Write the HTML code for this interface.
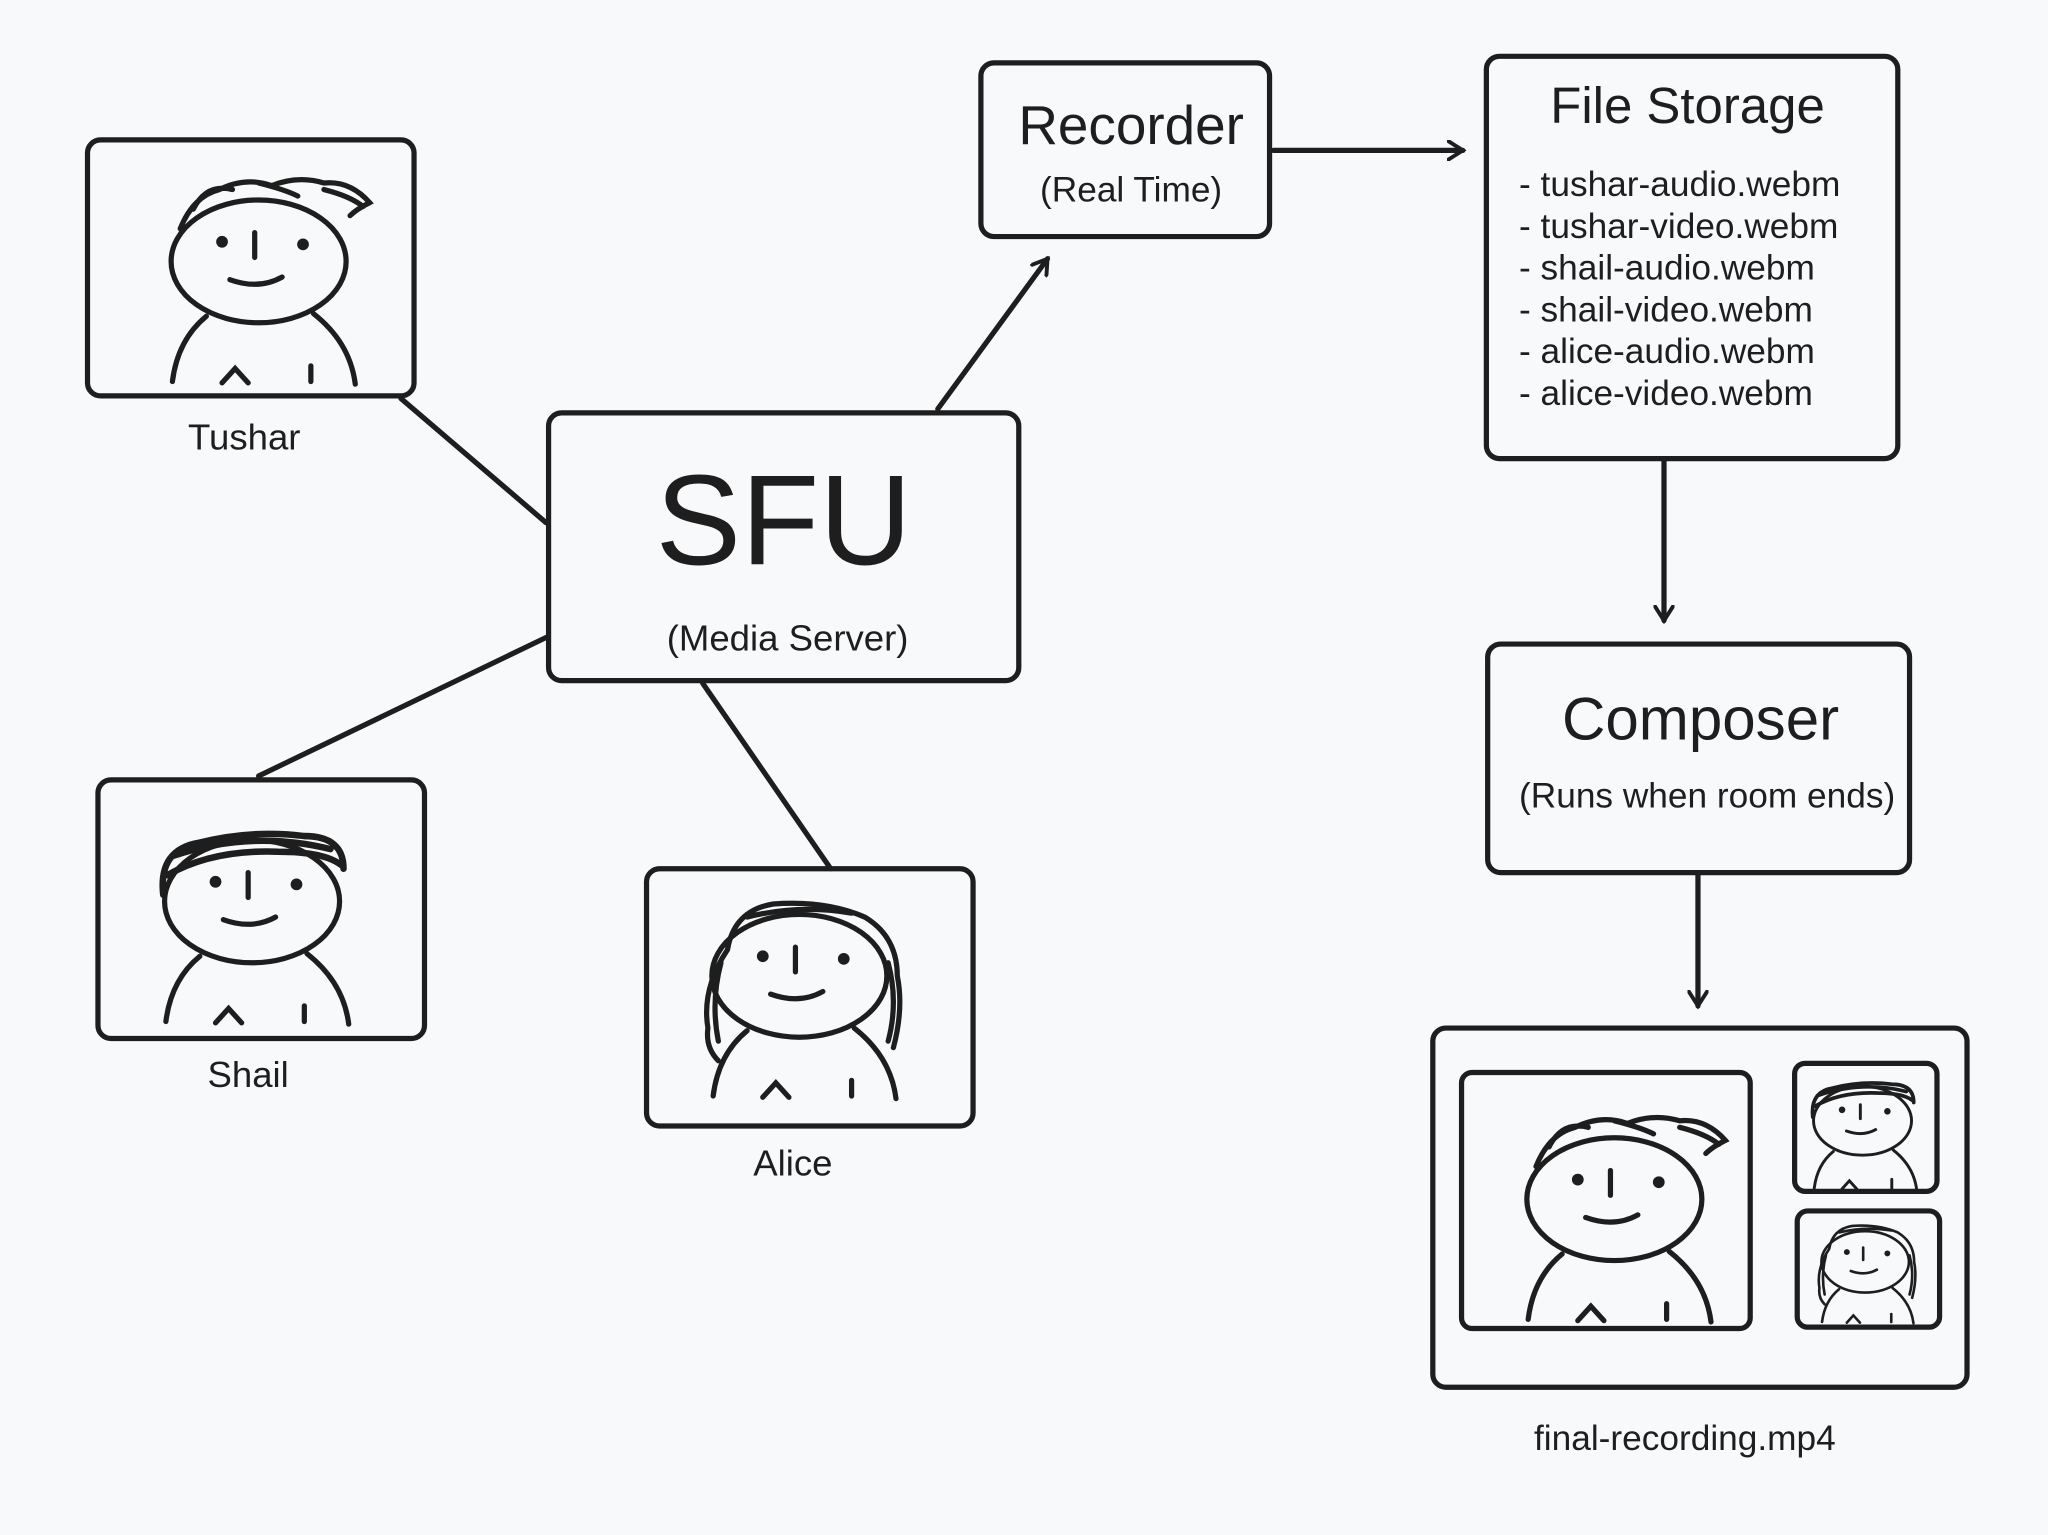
<!DOCTYPE html>
<html><head><meta charset="utf-8"><style>
html,body{margin:0;padding:0;background:#f8f9fb;}
svg{display:block}
text{font-family:"Liberation Sans",sans-serif;fill:#1e1e1e}
</style></head><body>
<svg width="2048" height="1535" viewBox="0 0 1568 1175" xmlns="http://www.w3.org/2000/svg">
<defs>
<marker id="ah" markerWidth="16" markerHeight="16" refX="12" refY="8" orient="auto" markerUnits="userSpaceOnUse">
<path d="M1,1 L12,8 L1,15" fill="none" stroke="#1e1e1e" stroke-width="3" stroke-linecap="round"/>
</marker>
<g id="face" fill="none" stroke="#1e1e1e" stroke-width="4" stroke-linecap="round">
<ellipse cx="0" cy="0" rx="67" ry="47"/>
<circle cx="-28" cy="-15" r="2.5" fill="#1e1e1e"/>
<circle cx="34" cy="-13" r="2.5" fill="#1e1e1e"/>
<path d="M-3,-22 L-3,-3"/>
<path d="M-22,14 Q0,22 18,12"/>
<path d="M-40,42 Q-62,60 -66,92"/>
<path d="M42,40 Q70,62 74,94"/>
<path d="M-28,93 L-18,82 L-8,93"/>
<path d="M40,80 L40,92"/>
</g>
<g id="hairT" fill="none" stroke="#1e1e1e" stroke-width="4" stroke-linecap="round">
<path d="M-60,-25 Q-50,-50 -30,-55 Q-10,-65 10,-58 Q30,-66 50,-60 Q70,-62 85,-45 Q75,-40 70,-35 M-50,-40 Q-40,-60 -20,-55 M0,-60 Q20,-55 30,-50 M50,-55 Q70,-50 80,-42"/>
</g>
<g id="hairS" fill="none" stroke="#1e1e1e" stroke-width="5" stroke-linecap="round">
<path d="M-68,-5 Q-72,-40 -40,-45 Q0,-55 40,-50 Q70,-50 70,-25 M-65,-20 Q-30,-40 20,-38 Q55,-38 68,-28 M-60,-35 Q0,-55 60,-40"/>
</g>
<g id="hairA" fill="none" stroke="#1e1e1e" stroke-width="4" stroke-linecap="round">
<path d="M-55,-20 Q-50,-50 -20,-55 Q20,-58 50,-45 Q75,-30 75,0 Q80,25 72,55 M-55,-20 Q-75,10 -70,40 Q-72,55 -62,65 M-60,-10 Q-68,20 -62,50 M68,-10 Q76,20 68,50 M-40,-45 Q0,-55 40,-48"/>
</g>
</defs>
<g fill="none" stroke="#1e1e1e" stroke-width="4" stroke-linecap="round" stroke-linejoin="round">
<rect x="67" y="107" width="250" height="196" rx="10"/>
<rect x="420" y="316" width="360" height="205" rx="10"/>
<rect x="75" y="597" width="250" height="198" rx="10"/>
<rect x="495" y="665" width="250" height="197" rx="10"/>
<rect x="751" y="48" width="221" height="133" rx="10"/>
<rect x="1138" y="43" width="315" height="308" rx="10"/>
<rect x="1139" y="493" width="323" height="175" rx="10"/>
<rect x="1097" y="787" width="409" height="275" rx="10"/>
<rect x="1119" y="821" width="221" height="196" rx="8"/>
<rect x="1374" y="814" width="109" height="98" rx="8"/>
<rect x="1376" y="927" width="109" height="89" rx="8"/>
<path d="M307,305 L418,400"/>
<path d="M198,594 L418,488"/>
<path d="M636,665 L538,523"/>
<path d="M718,313 L802,198" marker-end="url(#ah)"/>
<path d="M975,115 L1120,115" marker-end="url(#ah)"/>
<path d="M1274,353 L1274,475" marker-end="url(#ah)"/>
<path d="M1300,670 L1300,770" marker-end="url(#ah)"/>
</g>
<use href="#face" transform="translate(198,200)"/><use href="#hairT" transform="translate(198,200)"/>
<use href="#face" transform="translate(193,690)"/><use href="#hairS" transform="translate(193,690)"/>
<use href="#face" transform="translate(612,747)"/><use href="#hairA" transform="translate(612,747)"/>
<use href="#face" transform="translate(1236,918)"/><use href="#hairT" transform="translate(1236,918)"/>
<use href="#face" transform="translate(1426,858) scale(0.56)"/><use href="#hairS" transform="translate(1426,858) scale(0.56)"/>
<use href="#face" transform="translate(1428,966) scale(0.5)"/><use href="#hairA" transform="translate(1428,966) scale(0.5)"/>
<g text-anchor="middle">
<text x="187" y="344" font-size="28">Tushar</text>
<text x="190" y="832" font-size="28">Shail</text>
<text x="607" y="900" font-size="28">Alice</text>
<text x="600" y="432" font-size="98">SFU</text>
<text x="603" y="498" font-size="28">(Media Server)</text>
<text x="866" y="110" font-size="42">Recorder</text>
<text x="866" y="154" font-size="27">(Real Time)</text>
<text x="1292" y="94" font-size="39">File Storage</text>
<text x="1302" y="566" font-size="46">Composer</text>
<text x="1307" y="618" font-size="27">(Runs  when room ends)</text>
<text x="1290" y="1110" font-size="27">final-recording.mp4</text>
</g>
<g font-size="27">
<text x="1163" y="150">- tushar-audio.webm</text>
<text x="1163" y="182">- tushar-video.webm</text>
<text x="1163" y="214">- shail-audio.webm</text>
<text x="1163" y="246">- shail-video.webm</text>
<text x="1163" y="278">- alice-audio.webm</text>
<text x="1163" y="310">- alice-video.webm</text>
</g>
</svg>
</body></html>
